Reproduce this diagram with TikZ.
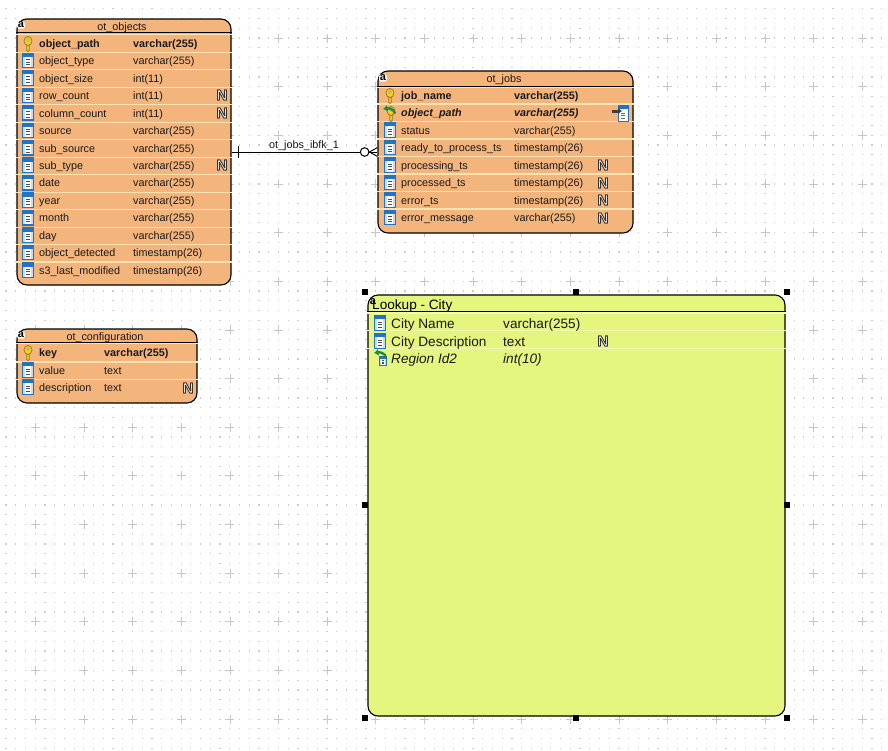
\documentclass[tikz,border=0pt]{standalone}
\usepackage{fontspec}
\setmainfont{Liberation Sans}
\usetikzlibrary{positioning,arrows.meta}
\definecolor{tableorange}{HTML}{F4B57C}
\definecolor{roworange}{HTML}{FDE2B2}
\definecolor{tablelime}{HTML}{E6F57E}
\definecolor{rowlime}{HTML}{F4FBB8}
\definecolor{colblue}{HTML}{1F74C8}
\definecolor{keygold}{HTML}{F6CB2A}
\definecolor{keyedge}{HTML}{8C7A12}
\definecolor{fkgreen}{HTML}{1F8A40}
\definecolor{griddot}{HTML}{CCCCCC}
\definecolor{gridplus}{HTML}{C6C6C6}
\newcommand{\outlineN}{\special{pdf:code q 2 Tr 0.9 w 0.2 G 1 j}N\special{pdf:code Q}}
\tikzset{
  keyicon/.pic={
    \fill[keygold,draw=keyedge,line width=.7pt] (-1.3,0) -- (-1.3,7.5) -- (0,8.5) -- (1.3,7.5) -- (1.3,0) -- cycle;
    \fill[keygold,draw=keyedge,line width=.7pt] (0,-2) ellipse (4 and 4.5);
    \fill[white,draw=keyedge,line width=.4pt] (0,-3) circle (1.3);
  },
  colicon/.pic={
    \fill[white,draw=colblue,line width=1.2pt] (-5.4,-7.2) rectangle (5.4,7.2);
    \fill[colblue] (-5.4,-7.2) rectangle (5.4,-3.6);
    \fill[colblue!25] (-4.8,-3.6) rectangle (-3.4,6.6);
    \fill[colblue!25] (3.4,-3.6) rectangle (4.8,6.6);
    \foreach \dashy in {-1,1.6,4.2} \fill[black!70] (-1.6,\dashy-.5) rectangle (1.6,\dashy+.5);
  },
  fkarrow/.pic={
    \draw[fkgreen,line width=2.4pt,-{Latex[length=4.5pt,width=7pt]}] (7,3.5) .. controls (6,-1) and (1,-2) .. (-5,-1);
  },
  linkicon/.pic={
    \fill[white,draw=colblue,line width=1pt] (-5,-8) rectangle (5,8);
    \fill[colblue] (-5,-8) rectangle (5,-4);
    \foreach \dashy in {0,2.6,5.2} \fill[black!60] (-2.4,\dashy-.5) rectangle (2.4,\dashy+.5);
    \draw[black!75,line width=3pt,-{Latex[length=4pt,width=7.5pt]}] (-11,-2) -- (-1,-2);
  },
  nullmark/.pic={
    \node[text=white,font=\fontsize{15}{15}\selectfont\bfseries,inner sep=0pt] (-n) at (0,0) {\outlineN};
  }
}
\begin{document}
\begin{tikzpicture}[x=1pt,y=-1pt,
  tablebox/.style={draw=black,line width=1.1pt,rounded corners=10pt,inner sep=0pt},
  orangebox/.style={tablebox,fill=tableorange},
  limebox/.style={tablebox,fill=tablelime},
  tabletitle/.style={inner sep=0pt,yshift=-1.5pt,font=\fontsize{10.8}{12}\selectfont,text=black!90},
  fieldtext/.style={anchor=west,inner sep=0pt,text height=8.4pt,text depth=0pt,font=\fontsize{10.8}{12}\selectfont,text=black!90},
  pkfield/.style={fieldtext,font=\fontsize{10.8}{12}\selectfont\bfseries},
  fkfield/.style={fieldtext,font=\fontsize{10.8}{12}\selectfont\bfseries\itshape},
  bigfield/.style={anchor=west,inner sep=0pt,text height=10.4pt,text depth=0pt,font=\fontsize{13.6}{15}\selectfont,text=black!90},
  badge/.style={inner sep=.7pt,rounded corners=2pt,fill=white,font=\fontsize{11}{11}\selectfont\bfseries},
  handle/.style={fill=black,inner sep=0pt,minimum size=6pt},
  rowline/.style={line width=1.2pt},
  headline/.style={draw=black,line width=1.1pt}]
  \useasboundingbox (0,0) rectangle (888,750);
  % dotted background
  \foreach \gridy in {0,...,76}
    \draw[griddot,line width=1.2pt,dash pattern=on 1.2pt off 8.53pt] (5.4,8.8+9.73*\gridy) -- (888,8.8+9.73*\gridy);
  \foreach \gridi in {0,...,17}
    \foreach \gridj in {0,...,14}
      \draw[gridplus,line width=.8pt] (35.3+48.65*\gridi-4.5,38+48.65*\gridj) -- ++(9,0) (35.3+48.65*\gridi,38+48.65*\gridj-4.5) -- ++(0,9);

  \node[orangebox,minimum width=214pt,minimum height=266pt] (objects) at (124,152) {};
  \node[orangebox,minimum width=255pt,minimum height=162pt] (jobs) at (505.5,152) {};
  \node[orangebox,minimum width=180pt,minimum height=74pt] (config) at (107,366) {};
  \node[limebox,minimum width=417pt,minimum height=421pt] (lookup) at (576.5,505.5) {};

  % ot_objects
  \foreach \rowy in {34.2,52.3,69.8,87.3,104.8,122.2,139.7,157.2,174.6,192.1,209.6,227.1,244.5,262}
    \draw[roworange,rowline] (objects.west |- 0,\rowy) -- (objects.east |- 0,\rowy);
  \draw[headline] (objects.west |- 0,32.8) -- (objects.east |- 0,32.8);
  \node[badge] (objectsbadge) at (21,25) {a};
  \node[tabletitle] (objectstitle) at (122,26) {ot\_objects};
  \pic at (28,43) {keyicon};
  \node[pkfield] (objpathname) at (39,43) {object\_path};
  \node[pkfield] (objpathtype) at (133,43) {varchar(255)};
  \foreach \fname/\ftype [count=\rowi] in {object\_type/varchar(255),object\_size/int(11),row\_count/int(11),column\_count/int(11),source/varchar(255),sub\_source/varchar(255),sub\_type/varchar(255),date/varchar(255),year/varchar(255),month/varchar(255),day/varchar(255),object\_detected/timestamp(26),s3\_last\_modified/timestamp(26)} {
    \pic at (28,43+17.47*\rowi) {colicon};
    \node[fieldtext] (objname\rowi) at (39,43+17.47*\rowi) {\fname};
    \node[fieldtext] (objtype\rowi) at (133,43+17.47*\rowi) {\ftype};
  }
  \pic (objnull3) at (222,95) {nullmark};
  \pic (objnull4) at (222,113) {nullmark};
  \pic (objnull7) at (222,165) {nullmark};

  % ot_jobs
  \foreach \rowy in {87.8,104,121.5,139,156.5,174,191.5,209}
    \draw[roworange,rowline] (jobs.west |- 0,\rowy) -- (jobs.east |- 0,\rowy);
  \draw[headline] (jobs.west |- 0,86.4) -- (jobs.east |- 0,86.4);
  \node[badge] (jobsbadge) at (383,78) {a};
  \node[tabletitle] (jobstitle) at (504,78) {ot\_jobs};
  \pic at (390,95) {keyicon};
  \node[pkfield] (jobname) at (401,95) {job\_name};
  \node[pkfield] (jobtype) at (514,95) {varchar(255)};
  \pic at (391,113) {keyicon};
  \pic at (388,110) {fkarrow};
  \node[fkfield] (jobpathname) at (401,112.5) {object\_path};
  \node[fkfield] (jobpathtype) at (514,112.5) {varchar(255)};
  \pic at (623,113) {linkicon};
  \foreach \fname/\ftype [count=\rowi] in {status/varchar(255),ready\_to\_process\_ts/timestamp(26),processing\_ts/timestamp(26),processed\_ts/timestamp(26),error\_ts/timestamp(26),error\_message/varchar(255)} {
    \pic at (390,112.5+17.5*\rowi) {colicon};
    \node[fieldtext] (jobsname\rowi) at (401,112.5+17.5*\rowi) {\fname};
    \node[fieldtext] (jobstype\rowi) at (514,112.5+17.5*\rowi) {\ftype};
  }
  \pic (jobnull3) at (603,165) {nullmark};
  \pic (jobnull4) at (603,183) {nullmark};
  \pic (jobnull5) at (603,200) {nullmark};
  \pic (jobnull6) at (603,218) {nullmark};

  % ot_configuration
  \foreach \rowy in {343.8,362,379.3}
    \draw[roworange,rowline] (config.west |- 0,\rowy) -- (config.east |- 0,\rowy);
  \draw[headline] (config.west |- 0,342.4) -- (config.east |- 0,342.4);
  \node[badge] (configbadge) at (21,335) {a};
  \node[tabletitle] (configtitle) at (105,336) {ot\_configuration};
  \pic at (28,352) {keyicon};
  \node[pkfield] (configkey) at (39,352) {key};
  \node[pkfield] (configkeytype) at (104,352) {varchar(255)};
  \pic at (28,370) {colicon};
  \node[fieldtext] (configvalue) at (39,370) {value};
  \node[fieldtext] (configvaluetype) at (104,370) {text};
  \pic at (28,387) {colicon};
  \node[fieldtext] (configdesc) at (39,387) {description};
  \node[fieldtext] (configdesctype) at (104,387) {text};
  \pic (confignull) at (188,388) {nullmark};

  % Lookup - City
  \foreach \rowy in {313,330.5,348.5}
    \draw[rowlime,rowline] (lookup.west |- 0,\rowy) -- (lookup.east |- 0,\rowy);
  \draw[headline] (lookup.west |- 0,311.5) -- (lookup.east |- 0,311.5);
  \node[inner sep=0pt,font=\fontsize{11}{11}\selectfont\bfseries] (lookupbadge) at (373,302) {a};
  \node[bigfield,text=black] (lookuptitle) at (372,304) {Lookup - City};
  \pic at (380,323) {colicon};
  \node[bigfield] (cityname) at (391,323) {City Name};
  \node[bigfield] (citynametype) at (503,323) {varchar(255)};
  \pic at (380,341) {colicon};
  \node[bigfield] (citydesc) at (391,341) {City Description};
  \node[bigfield] (citydesctype) at (503,341) {text};
  \pic (citynull) at (603,341) {nullmark};
  \pic[scale=.6] at (383,361) {colicon};
  \pic at (379,354) {fkarrow};
  \node[bigfield,font=\fontsize{13.6}{15}\selectfont\itshape] (regionname) at (391,358) {Region Id2};
  \node[bigfield,font=\fontsize{13.6}{15}\selectfont\itshape] (regiontype) at (503,358) {int(10)};

  % selection handles
  \node[handle] (handlenw) at (365,292) {};
  \node[handle] (handlen) at (576,292) {};
  \node[handle] (handlene) at (787,292) {};
  \node[handle] (handlew) at (365,505) {};
  \node[handle] (handlee) at (787,505) {};
  \node[handle] (handlesw) at (365,718) {};
  \node[handle] (handles) at (576,718) {};
  \node[handle] (handlese) at (787,718) {};

  % relation
  \draw[line width=1pt] (objects) -- (jobs);
  \draw[line width=.9pt] ([xshift=7pt,yshift=6pt]objects.east) -- ([xshift=7pt,yshift=-6pt]objects.east);
  \node[draw=black,fill=white,circle,line width=1pt,inner sep=0pt,minimum size=8.6pt,left=8pt of jobs.west] (optional) {};
  \draw[line width=.9pt] ([yshift=4.5pt]jobs.west) -- (optional.east) -- ([yshift=-4.5pt]jobs.west);
  \node[tabletitle] (rellabel) at (304,144) {ot\_jobs\_ibfk\_1};
\end{tikzpicture}
\end{document}
